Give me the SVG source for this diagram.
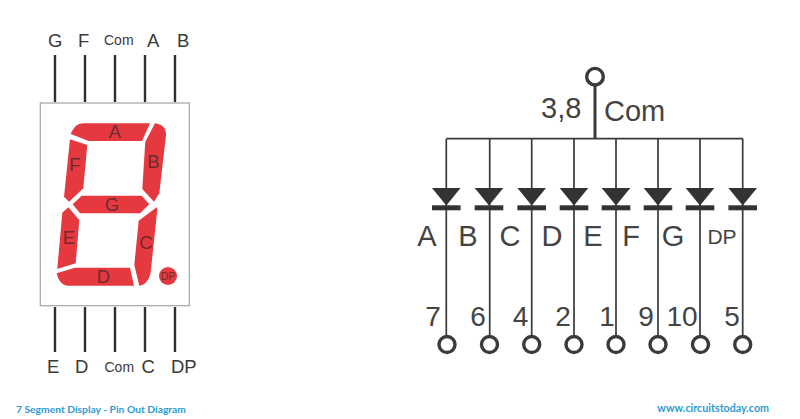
<svg xmlns="http://www.w3.org/2000/svg" width="800" height="419" viewBox="0 0 800 419">
<style>
text{font-family:"Liberation Sans",Arial,sans-serif;fill:#3a3a3a}
.seg{fill:#e6393f}
.pin{stroke:#2f2f2f;stroke-width:2.400;fill:none}
.w{stroke:#3a3a3a;stroke-width:1.700;fill:none}
.c{stroke:#3a3a3a;stroke-width:3.400;fill:#fff}
.l18{font-size:18.500px}.l14{font-size:14px}
.s{font-size:18.500px;fill:#6e2a2e;text-anchor:middle}
.r{font-size:29px;fill:#444;text-anchor:middle}
.n{font-size:28px;fill:#444;text-anchor:middle}
.tri{fill:#333}
.cap{font-family:Lato,"Open Sans",sans-serif;font-weight:bold;fill:#2b9bd6}
</style>
<defs>
<g id="diode"><path class="tri" d="M-14.300 188H14.300L0 205.600Z"/><rect class="tri" x="-14.300" y="205.300" width="28.600" height="5"/></g>
</defs>
<rect width="800" height="419" fill="#fff"/>
<g id="display">
<rect x="40.300" y="103" width="149" height="202.700" fill="#fff" stroke="#a3a3a3" stroke-width="1.200"/>
<g id="seg-a"><path class="seg" d="M70.700 134C74 127 77 123.300 84 123.300H150L142 141H88.700Z"/><text class="s" x="115" y="138">A</text></g>
<g id="seg-b"><path class="seg" d="M155 123.300C162 124 166 128 166 135L159.300 193.300L154 201.700L142.300 189L145.300 141.700Z"/><text class="s" x="153.500" y="168">B</text></g>
<g id="seg-f"><path class="seg" d="M70 139.300L87.300 145L83.300 188.300L69 201.700L64 196.700Z"/><text class="s" x="75" y="171">F</text></g>
<g id="seg-g"><path class="seg" d="M72.700 204.300L81.700 195.700H141.700L149.300 204.300L140 213.300H80Z"/><text class="s" x="112" y="211">G</text></g>
<g id="seg-e"><path class="seg" d="M68.300 207.300L79.300 220L75.700 263.300L57.300 269L62.300 212.700Z"/><text class="s" x="69" y="244">E</text></g>
<g id="seg-c"><path class="seg" d="M156.700 207.300L157.300 210L150.700 271.700C149.500 280 145 285 139.300 285.700L134.300 265L138.700 220.700Z"/><text class="s" x="146" y="249">C</text></g>
<g id="seg-d"><path class="seg" d="M56.700 273.300L75 267.700H130L134 285.700H68.300C62 285.700 58 280 56.700 273.300Z"/><text class="s" x="103.500" y="283">D</text></g>
<g id="seg-dp"><circle class="seg" cx="168" cy="276" r="9"/><text x="168" y="280" font-size="10.500" text-anchor="middle" style="fill:#6e2a2e">DP</text></g>
</g>
<g id="pins-left">
<path class="pin" d="M55 55V102M85 55V102M115 55V102M145 55V102M175 55V102M55 307V352M85 307V352M115 307V352M145 307V352M175 307V352"/>
</g>
<g id="labels-left">
<text class="l18" x="48" y="47">G</text><text class="l18" x="78" y="47">F</text><text class="l14" x="104" y="45">Com</text><text class="l18" x="147" y="47">A</text><text class="l18" x="177" y="47">B</text>
<text class="l18" x="47" y="373">E</text><text class="l18" x="75" y="373">D</text><text class="l14" x="104.500" y="372">Com</text><text class="l18" x="141.500" y="373">C</text><text class="l18" x="171" y="373">DP</text>
</g>
<g id="connectors">
<path class="w" d="M446.300 138.700H743M446.300 138.700V337M489.700 138.700V337M531.700 138.700V337M574 138.700V337M616 138.700V337M658 138.700V337M700 138.700V337M742.700 138.700V337"/>
<path d="M595 85V138" stroke="#3a3a3a" stroke-width="3" fill="none"/>
</g>
<g id="com-terminal"><circle class="c" cx="595" cy="76.700" r="8.300"/><text x="541" y="118" font-size="29" style="fill:#444">3,8</text><text x="604" y="120.500" font-size="29" style="fill:#444">Com</text></g>
<g id="diode-a"><use href="#diode" x="446.300"/><text class="r" x="427" y="246">A</text><circle class="c" cx="447" cy="344.500" r="8"/><text class="n" x="433" y="326">7</text></g>
<g id="diode-b"><use href="#diode" x="489"/><text class="r" x="468" y="246">B</text><circle class="c" cx="489.500" cy="344.500" r="8"/><text class="n" x="478" y="326">6</text></g>
<g id="diode-c"><use href="#diode" x="531.700"/><text class="r" x="510" y="246">C</text><circle class="c" cx="531.700" cy="344.500" r="8"/><text class="n" x="520.500" y="326">4</text></g>
<g id="diode-d"><use href="#diode" x="574"/><text class="r" x="552" y="246">D</text><circle class="c" cx="574" cy="344.500" r="8"/><text class="n" x="563" y="326">2</text></g>
<g id="diode-e"><use href="#diode" x="616"/><text class="r" x="593" y="246">E</text><circle class="c" cx="616" cy="344.500" r="8"/><text class="n" x="607" y="326">1</text></g>
<g id="diode-f"><use href="#diode" x="658"/><text class="r" x="631" y="246">F</text><circle class="c" cx="658" cy="344.500" r="8"/><text class="n" x="646" y="326">9</text></g>
<g id="diode-g"><use href="#diode" x="700"/><text class="r" x="673" y="246">G</text><circle class="c" cx="700.500" cy="344.500" r="8"/><text class="n" x="682" y="326">10</text></g>
<g id="diode-dp"><use href="#diode" x="742.700"/><text class="r" x="722" y="244" style="font-size:21px">DP</text><circle class="c" cx="742.700" cy="344.500" r="8"/><text class="n" x="732" y="326">5</text></g>
<g id="captions">
<text class="cap" x="16" y="412.700" font-size="10.300">7 Segment Display - Pin Out Diagram</text>
<text class="cap" x="769" y="411.700" font-size="10.700" text-anchor="end">www.circuitstoday.com</text>
</g>
</svg>
